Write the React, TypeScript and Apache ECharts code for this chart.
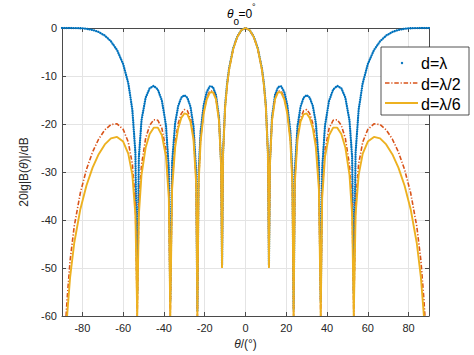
import React, { useEffect, useRef } from "react";
import * as echarts from "echarts";

// angle samples (degrees)
const thetaDeg = [-90,-89,-88,-87.5,-86,-84,-81,-78,-75,-72,-69,-66,-63,-60,-57.5,-55.5,-54,-53.1,-52.3,-51,-49,-47,-45,-43,-41,-39,-37.6,-36.9,-36,-34.5,-33,-31.5,-30,-28.5,-27,-25.5,-24.2,-23.6,-23,-22,-20.5,-19,-17.5,-16,-14.5,-13,-12,-11.5,-11,-10,-9,-8,-6,-4,-2,0,2,4,6,8,9,10,11,11.5,12,13,14.5,16,17.5,19,20.5,22,23,23.6,24.2,25.5,27,28.5,30,31.5,33,34.5,36,36.9,37.6,39,41,43,45,47,49,51,52.3,53.1,54,55.5,57.5,60,63,66,69,72,75,78,81,84,86,87.5,88,89,90];

// d = λ
const blueDb = [0,0,0,0,0,-0.01,-0.05,-0.17,-0.4,-0.84,-1.57,-2.77,-4.59,-7.51,-11.48,-17.02,-26.01,-55.3,-26.92,-19.25,-14.54,-12.55,-12.05,-12.82,-15.15,-20.28,-29.44,-57.1,-28.05,-19.75,-16.23,-14.51,-13.98,-14.53,-16.39,-20.49,-29.81,-58.8,-30.23,-21.51,-16.02,-13.32,-12.15,-12.27,-13.93,-18.59,-27.79,-49.4,-25.85,-16.19,-11.44,-8.28,-4.17,-1.75,-0.42,
  0,
  -0.42,-1.75,-4.17,-8.28,-11.44,-16.19,-25.85,-49.4,-27.79,-18.59,-13.93,-12.27,-12.15,-13.32,-16.02,-21.51,-30.23,-58.8,-29.81,-20.49,-16.39,-14.53,-13.98,-14.51,-16.23,-19.75,-28.05,-57.1,-29.44,-20.28,-15.15,-12.82,-12.05,-12.55,-14.54,-19.25,-26.92,-55.3,-26.01,-17.02,-11.48,-7.51,-4.59,-2.77,-1.57,-0.84,-0.4,-0.17,-0.05,-0.01,0,0,0,0,0];

// d = λ/2
const redDb = [null,null,-60,-56.52,-48.33,-41.31,-34.33,-29.45,-25.84,-23.12,-21.22,-20.12,-19.96,-21.11,-23.75,-28.31,-36.6,-60,-36.76,-28.55,-23.04,-20.3,-19.1,-19.22,-20.92,-25.48,-34.25,-60,-32.43,-23.77,-19.9,-17.84,-16.99,-17.24,-18.81,-22.65,-31.75,-60,-31.98,-23.11,-17.41,-14.51,-13.16,-13.11,-14.63,-19.14,-28.27,-49.9,-26.24,-16.52,-11.71,-8.49,-4.29,-1.8,-0.44,
  0,
  -0.44,-1.8,-4.29,-8.49,-11.71,-16.52,-26.24,-49.9,-28.27,-19.14,-14.63,-13.11,-13.16,-14.51,-17.41,-23.11,-31.98,-60,-31.75,-22.65,-18.81,-17.24,-16.99,-17.84,-19.9,-23.77,-32.43,-60,-34.25,-25.48,-20.92,-19.22,-19.1,-20.3,-23.04,-28.55,-36.76,-60,-36.6,-28.31,-23.75,-21.11,-19.96,-20.12,-21.22,-23.12,-25.84,-29.45,-34.33,-41.31,-48.33,-56.52,-60,null,null];

// d = λ/6
const yellowDb = [null,null,null,-60,-51.83,-44.79,-37.75,-32.81,-29.1,-26.28,-24.25,-23,-22.69,-23.67,-26.17,-30.61,-38.82,-60,-38.88,-30.58,-24.95,-22.09,-20.76,-20.76,-22.35,-26.78,-35.47,-60,-33.57,-24.82,-20.87,-18.73,-17.8,-17.98,-19.48,-23.25,-32.29,-60,-32.47,-23.56,-17.8,-14.85,-13.45,-13.35,-14.83,-19.3,-28.4,-50,-26.36,-16.61,-11.78,-8.55,-4.32,-1.81,-0.44,
  0,
  -0.44,-1.81,-4.32,-8.55,-11.78,-16.61,-26.36,-50,-28.4,-19.3,-14.83,-13.35,-13.45,-14.85,-17.8,-23.56,-32.47,-60,-32.29,-23.25,-19.48,-17.98,-17.8,-18.73,-20.87,-24.82,-33.57,-60,-35.47,-26.78,-22.35,-20.76,-20.76,-22.09,-24.95,-30.58,-38.88,-60,-38.82,-30.61,-26.17,-23.67,-22.69,-23,-24.25,-26.28,-29.1,-32.81,-37.75,-44.79,-51.83,-60,null,null,null];

const xTicks = [-80, -60, -40, -20, 0, 20, 40, 60, 80];
const legendNames = ["d=λ", "d=λ/2", "d=λ/6"];

const FONT = "'Liberation Sans', Arial, Helvetica, sans-serif";
const AXIS = "#4a4a4a";
const TXT = "#262626";
const GRID = "#e4e4e4";
const C_BLUE = "#0072BD";
const C_RED = "#D95319";
const C_YEL = "#EDB120";

export default function App() {
  const ref = useRef<HTMLDivElement>(null);
  useEffect(() => {
    const chart = echarts.init(ref.current!, null, { renderer: "svg" });
    const pair = (arr: (number | null)[]) =>
      thetaDeg.map((t, i) => [t, arr[i]]).filter((p) => p[1] !== null);

    const xBase = {
      type: "value",
      min: -90,
      max: 90,
      axisLine: { show: true, onZero: false, lineStyle: { color: AXIS, width: 1 } },
      axisTick: { show: true, inside: true, length: 4, customValues: xTicks, lineStyle: { color: AXIS } },
    };
    const yBase = {
      type: "value",
      min: -60,
      max: 0,
      interval: 10,
      axisLine: { show: true, onZero: false, lineStyle: { color: AXIS, width: 1 } },
      axisTick: { show: true, inside: true, length: 4, lineStyle: { color: AXIS } },
    };

    chart.setOption({
      animation: false,
      backgroundColor: "#ffffff",
      grid: { left: 62, right: 45, top: 28, bottom: 39, containLabel: false },
      xAxis: [
        {
          ...xBase,
          position: "bottom",
          axisLabel: { customValues: xTicks, color: TXT, fontSize: 11, fontFamily: FONT, margin: 6 },
          splitLine: { show: true, lineStyle: { color: GRID, width: 1 } },
          name: "{i|θ}/(°)",
          nameLocation: "middle",
          nameGap: 18,
          nameTextStyle: {
            color: TXT, fontSize: 12, fontFamily: FONT, verticalAlign: "top",
            rich: { i: { fontStyle: "italic", fontSize: 12, fontFamily: FONT, color: TXT } },
          },
        },
        { ...xBase, position: "top", axisLabel: { show: false }, splitLine: { show: false } },
      ],
      yAxis: [
        {
          ...yBase,
          position: "left",
          axisLabel: { color: TXT, fontSize: 11, fontFamily: FONT, margin: 5 },
          splitLine: { show: true, lineStyle: { color: GRID, width: 1 } },
          name: "20lg|B({i|θ})|/dB",
          nameLocation: "middle",
          nameGap: 23,
          nameRotate: 90,
          nameTextStyle: {
            color: TXT, fontSize: 12, fontFamily: FONT,
            rich: { i: { fontStyle: "italic", fontSize: 12, fontFamily: FONT, color: TXT } },
          },
        },
        { ...yBase, position: "right", axisLabel: { show: false }, splitLine: { show: false } },
      ],
      series: [
        {
          type: "line", name: legendNames[0], data: pair(blueDb), xAxisIndex: 0, yAxisIndex: 0,
          showSymbol: false, symbol: "none", clip: true,
          lineStyle: { color: C_BLUE, width: 2.3, type: [0.1, 2.2], cap: "round" },
        },
        {
          type: "line", name: legendNames[1], data: pair(redDb), xAxisIndex: 0, yAxisIndex: 0,
          showSymbol: false, symbol: "none", clip: true,
          lineStyle: { color: C_RED, width: 1.6, type: [4.5, 1.8, 1.2, 1.8] },
        },
        {
          type: "line", name: legendNames[2], data: pair(yellowDb), xAxisIndex: 0, yAxisIndex: 0,
          showSymbol: false, symbol: "none", clip: true,
          lineStyle: { color: C_YEL, width: 1.9 },
        },
      ],
      graphic: [
        // title  θo=0°
        { type: "text", x: 227, y: 14, z: 100, style: { text: "θ", fontSize: 12, fontStyle: "italic", fontFamily: FONT, fill: "#000", align: "left", verticalAlign: "middle" } },
        { type: "text", x: 233.5, y: 21, z: 100, style: { text: "o", fontSize: 10, fontFamily: FONT, fill: "#000", align: "left", verticalAlign: "middle" } },
        { type: "text", x: 238.5, y: 14, z: 100, style: { text: "=0", fontSize: 12, fontFamily: FONT, fill: "#000", align: "left", verticalAlign: "middle" } },
        { type: "text", x: 252, y: 7, z: 100, style: { text: "°", fontSize: 9, fontFamily: FONT, fill: "#000", align: "left", verticalAlign: "middle" } },
        // legend
        { type: "rect", z: 100, shape: { x: 381, y: 47, width: 88, height: 68 }, style: { fill: "#fff", stroke: "#262626", lineWidth: 0.8 } },
        { type: "circle", z: 101, shape: { cx: 402, cy: 63, r: 1.2 }, style: { fill: C_BLUE } },
        { type: "line", z: 101, shape: { x1: 385, y1: 83, x2: 418, y2: 83 }, style: { stroke: C_RED, lineWidth: 1.5, lineDash: [4.5, 1.8, 1.2, 1.8] } },
        { type: "line", z: 101, shape: { x1: 385, y1: 103, x2: 418, y2: 103 }, style: { stroke: C_YEL, lineWidth: 1.8 } },
        { type: "text", z: 101, x: 421, y: 63, style: { text: legendNames[0], fontSize: 16, fontFamily: FONT, fill: "#000", align: "left", verticalAlign: "middle" } },
        { type: "text", z: 101, x: 421, y: 84, style: { text: legendNames[1], fontSize: 16, fontFamily: FONT, fill: "#000", align: "left", verticalAlign: "middle" } },
        { type: "text", z: 101, x: 421, y: 104, style: { text: legendNames[2], fontSize: 16, fontFamily: FONT, fill: "#000", align: "left", verticalAlign: "middle" } },
      ],
    });
    return () => chart.dispose();
  }, []);

  return (
    <div
      ref={ref}
      style={{ position: "absolute", left: 0, top: 0, width: 474, height: 355, background: "#fff" }}
    />
  );
}
